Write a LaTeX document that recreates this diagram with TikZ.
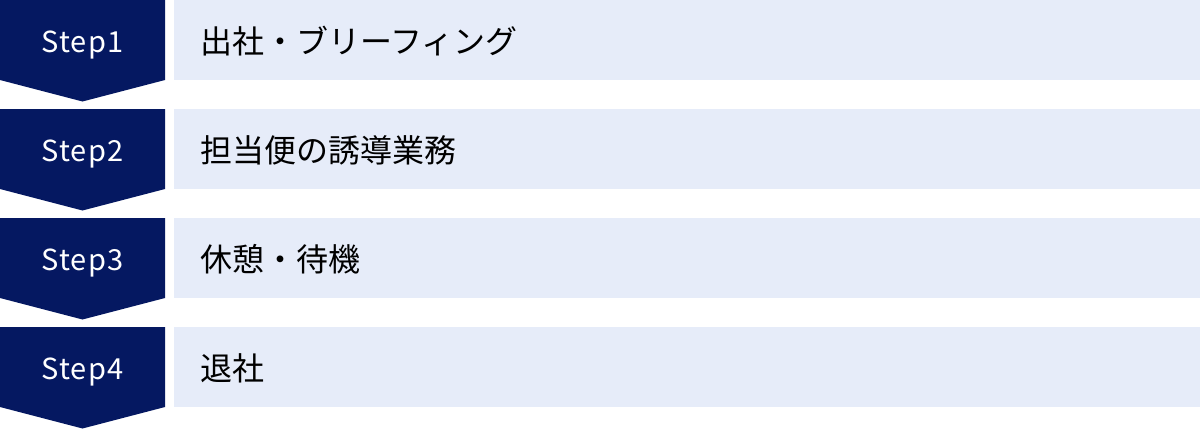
\documentclass[tikz,border=0pt]{standalone}
\usepackage{fontspec}
\setmainfont{Noto Sans CJK JP}
\definecolor{navy}{HTML}{051861}
\definecolor{pale}{HTML}{E6ECF9}
\begin{document}
\begin{tikzpicture}[x=1pt,y=-1pt,
  chev/.style={fill=navy,draw=none},
  band/.style={fill=pale,draw=none},
  steplabel/.style={text=white,font=\fontsize{29}{32}\selectfont,inner sep=0pt,anchor=base},
  tasklabel/.style={text=black,font=\fontsize{32}{35}\selectfont,inner sep=0pt,anchor=base west}]
\useasboundingbox (0,0) rectangle (1200,429);
\foreach \i/\lab/\task in {0/Step1/出社・ブリーフィング,1/Step2/担当便の誘導業務,2/Step3/休憩・待機,3/Step4/退社}{
  \pgfmathsetmacro{\t}{109*\i}
  \fill[chev] (0,\t) -- (165,\t) -- (165,\t+80) -- (82.5,\t+101.5) -- (0,\t+80) -- cycle;
  \fill[band] (174,\t) rectangle (1200,\t+80);
  \node[steplabel] (s\i) at (82.5,\t+52) {\addfontfeature{LetterSpace=4}\lab};
  \node[tasklabel] (t\i) at (200,\t+53) {\task};
}
\end{tikzpicture}
\end{document}
